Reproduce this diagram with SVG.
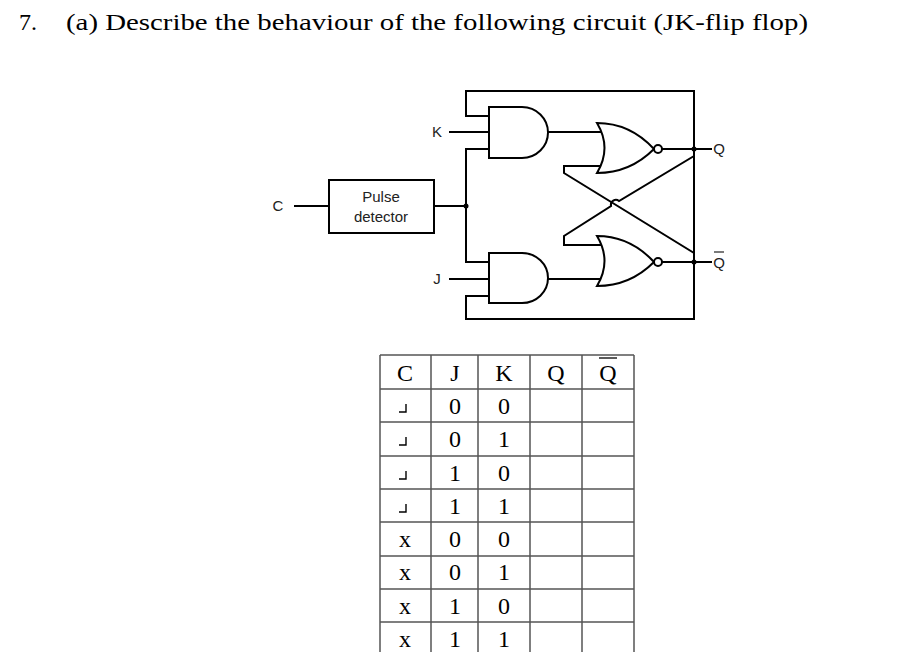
<svg xmlns="http://www.w3.org/2000/svg" width="920" height="652" viewBox="0 0 920 652">
<style>
.w{fill:none;stroke:#000;stroke-width:2}
.g{fill:#fff;stroke:#000;stroke-width:2}
.s{font-family:"Liberation Sans",Arial,sans-serif;font-size:15px;fill:#222}
.t{font-family:"Liberation Serif","Times New Roman",serif;font-size:24px;fill:#000}
.c{font-family:"Liberation Serif","Times New Roman",serif;font-size:24px;fill:#000;text-anchor:middle}
.tl{stroke:#555;stroke-width:1.5;fill:none}
</style>
<rect width="920" height="652" fill="#fff"/>
<text class="t" x="19" y="30">7.</text>
<text class="t" x="66" y="30" textLength="742" lengthAdjust="spacingAndGlyphs">(a) Describe the behaviour of the following circuit (JK-flip flop)</text>
<g id="connectors">
<path class="w" d="M489,116H466V91H694V319H466V296H489"/>
<path class="w" d="M449,132H489M449,279H489"/>
<path class="w" d="M489,149H466V262H489M434,206H466M294,206H329"/>
<circle cx="466" cy="206" r="2.5"/>
<path class="w" d="M548,132H602M548,279H602"/>
<path class="w" d="M662,149H712M662,262H712"/>
<circle cx="694" cy="149" r="2.5"/><circle cx="694" cy="262" r="2.5"/>
<path class="w" d="M602,166H564V173L694,253V262"/>
<path class="w" d="M694,149V156L619,201A5,5 0 0 0 611,206L564,236V245H602"/>
</g>
<g id="pulse"><rect class="g" x="329" y="180" width="105" height="53"/>
<text class="s" x="381" y="202" text-anchor="middle">Pulse</text>
<text class="s" x="381" y="222" text-anchor="middle">detector</text></g>
<g id="labels">
<text class="s" x="278" y="211" text-anchor="middle">C</text>
<text class="s" x="437" y="137" text-anchor="middle">K</text>
<text class="s" x="437" y="284" text-anchor="middle">J</text>
<text class="s" x="719" y="154" text-anchor="middle">Q</text>
<text class="s" x="719" y="268" text-anchor="middle">Q</text>
<line x1="714" y1="252" x2="724" y2="252" stroke="#222" stroke-width="1.2"/>
</g>
<g id="and1"><path class="g" d="M489,107H522A26,25.5 0 0 1 522,158H489Z"/></g>
<g id="and2"><path class="g" d="M489,253H522A26,25 0 0 1 522,303H489Z"/></g>
<g id="nor1"><path class="g" d="M597,123Q630,123 654,149Q630,173 597,173Q612,148 597,123Z"/><circle class="g" cx="658" cy="149" r="4"/></g>
<g id="nor2"><path class="g" d="M597,236Q630,236 654,262Q630,286 597,286Q612,261 597,236Z"/><circle class="g" cx="658" cy="262" r="4"/></g>
<g id="table">
<path class="tl" d="M380,355H634M380,389H634M380,422H634M380,456H634M380,489H634M380,522H634M380,556H634M380,589H634M380,622H634"/>
<path class="tl" d="M380,355V652M431,355V652M478,355V652M530,355V652M582,355V652M634,355V652"/>
<text class="c" x="405" y="381">C</text><text class="c" x="455" y="381">J</text><text class="c" x="504" y="381">K</text><text class="c" x="556" y="381">Q</text><text class="c" x="608" y="381">Q</text>
<line x1="599" y1="358" x2="617" y2="358" stroke="#000" stroke-width="1.3"/>
<g style="stroke:#000;stroke-width:1.4;fill:none"><path d="M399,412H406V404M399,445H406V437M399,479H406V471M399,512H406V504"/></g>
<text class="c" x="455" y="414">0</text><text class="c" x="504" y="414">0</text>
<text class="c" x="455" y="447">0</text><text class="c" x="504" y="447">1</text>
<text class="c" x="455" y="481">1</text><text class="c" x="504" y="481">0</text>
<text class="c" x="455" y="514">1</text><text class="c" x="504" y="514">1</text>
<text class="c" x="405" y="547">x</text><text class="c" x="455" y="547">0</text><text class="c" x="504" y="547">0</text>
<text class="c" x="405" y="580">x</text><text class="c" x="455" y="580">0</text><text class="c" x="504" y="580">1</text>
<text class="c" x="405" y="614">x</text><text class="c" x="455" y="614">1</text><text class="c" x="504" y="614">0</text>
<text class="c" x="405" y="647">x</text><text class="c" x="455" y="647">1</text><text class="c" x="504" y="647">1</text>
</g>
</svg>
